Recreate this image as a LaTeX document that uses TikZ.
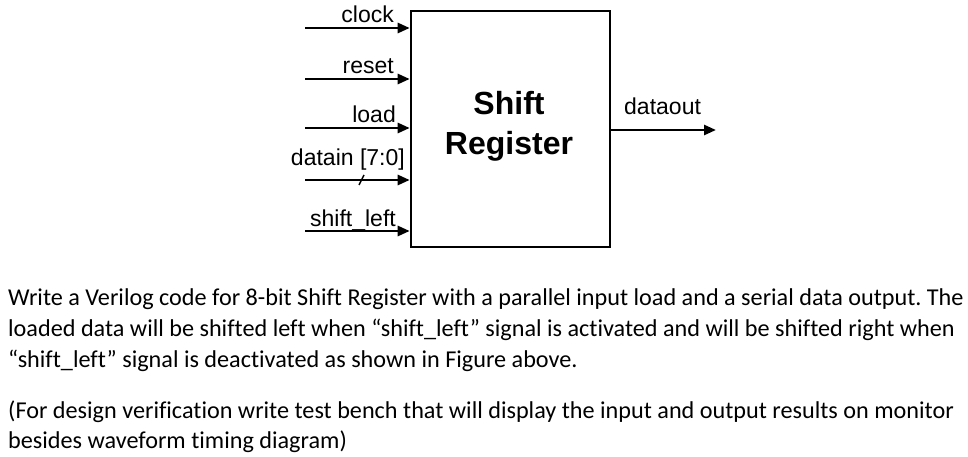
\documentclass[tikz,border=0pt]{standalone}
\usepackage{fontspec}
\setmainfont[RawFeature={-liga}]{Carlito}
\newfontfamily\arial{Liberation Sans}
\usetikzlibrary{arrows.meta}
\begin{document}
\frenchspacing
\begin{tikzpicture}[x=1pt,y=-1pt,
  sig/.style={line width=2.6pt,-{Triangle[length=12pt,width=10pt]}},
  lbl/.style={font=\arial\fontsize{23}{24}\selectfont,inner sep=0pt},
  ttl/.style={font=\arial\bfseries\fontsize{32}{40}\selectfont,inner sep=0pt,anchor=base},
  para/.style={font=\frenchspacing\fontsize{24.2}{28}\selectfont,inner sep=0pt,anchor=base west}]
\useasboundingbox (0,0) rectangle (968,457);
\fill[white] (0,0) rectangle (968,457);
\node[draw,line width=2.6pt,inner sep=0pt,minimum width=199pt,minimum height=236pt] (box) at (510.5,129) {};
\node[ttl] (t1) at (509,115) {Shift};
\node[ttl] (t2) at (509,155) {Register};
\coordinate (c1) at (305,28);
\coordinate (c2) at (305,79);
\coordinate (c3) at (305,128);
\coordinate (c4) at (305,180);
\coordinate (c5) at (305,231);
\draw[sig] (c1) -- (c1 -| box.west);
\draw[sig] (c2) -- (c2 -| box.west);
\draw[sig] (c3) -- (c3 -| box.west);
\draw[sig] (c4) -- (c4 -| box.west);
\draw[sig] (c5) -- (c5 -| box.west);
\draw[line width=1.5pt] (359,185) -- (364,175);
\node[lbl,anchor=base east] (l1) at (394,23) {clock};
\node[lbl,anchor=base east] (l2) at (394,74) {reset};
\node[lbl,anchor=base east] (l3) at (396,123) {load};
\node[lbl,anchor=base east] (l4) at (405,166) {datain [7:0]};
\node[lbl,anchor=base east] (l5) at (396,226) {shift\_left};
\coordinate (o1) at (box.east |- 0,130);
\coordinate (o2) at (716,130);
\draw[sig] (o1) -- (o2);
\node[lbl,anchor=base west] (lo) at (624,115) {dataout};
\node[para] (p1) at (8,305) {Write a Verilog code for 8-bit Shift Register with a parallel input load and a serial data output. The};
\node[para] (p2) at (8,336) {loaded data will be shifted left when “shift\_left” signal is activated and will be shifted right when};
\node[para] (p3) at (8,367) {“shift\_left” signal is deactivated as shown in Figure above.};
\node[para] (p4) at (8,418) {(For design verification write test bench that will display the input and output results on monitor};
\node[para] (p5) at (8,448) {besides waveform timing diagram)};
\end{tikzpicture}
\end{document}
